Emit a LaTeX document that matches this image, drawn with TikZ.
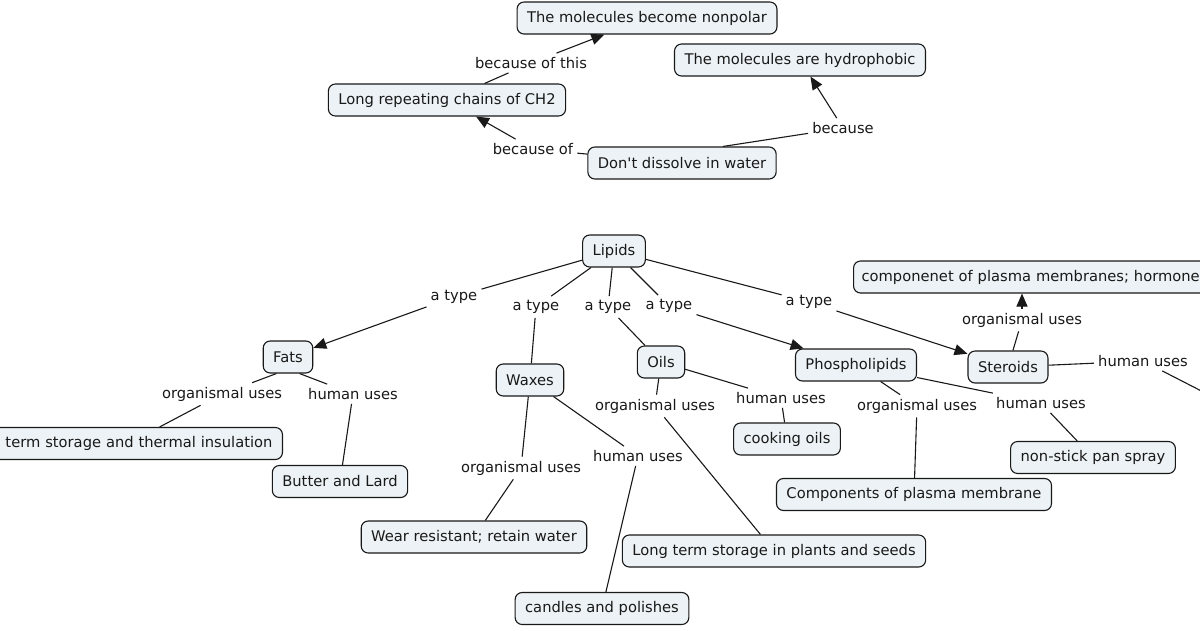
\documentclass[tikz,border=0pt]{standalone}
\usepackage{fontspec}
\setmainfont{DejaVu Sans}[Ligatures=TeXOff]
\usetikzlibrary{arrows.meta}
\definecolor{boxfill}{RGB}{236,242,245}
\definecolor{ink}{RGB}{25,25,25}
\begin{document}
\begin{tikzpicture}[x=1pt,y=-1pt,
  font=\fontsize{14.7}{17}\selectfont,
  concept/.style={draw=ink, line width=1.1pt, fill=boxfill, rounded corners=7pt,
    minimum height=32pt, inner xsep=10pt, text=ink},
  lab/.style={inner sep=4pt, text=ink},
  link/.style={draw=ink, line width=1.1pt},
  arr/.style={link, -{Triangle[length=13pt,width=11pt]}},
]
\useasboundingbox (0,0) rectangle (1200,630);
\clip (0,0) rectangle (1200,630);
\fill[white] (0,0) rectangle (1200,630);

% top cluster
\node[concept] (A) at (647,18) {The molecules become nonpolar};
\node[concept] (B) at (800,60) {The molecules are hydrophobic};
\node[concept] (C) at (447,100) {Long repeating chains of CH2};
\node[concept] (D) at (682,163) {Don't dissolve in water};
\node[lab] (lCA) at (531,63) {because of this};
\node[lab] (lDB) at (843,128) {because};
\node[lab] (lDC) at (533,149) {because of};
\draw[link] (C) -- (lCA);
\draw[arr] (lCA) -- (A);
\draw[link] (D.22) -- (lDB);
\draw[arr] (lDB) -- (B);
\draw[link] (D) -- (lDC);
\draw[arr] (lDC) -- (C);

% lipids
\node[concept] (Lip) at (614,251) {Lipids};
\node[concept] (Fats) at (288,357) {Fats};
\node[concept] (Wax) at (530,380) {Waxes};
\node[concept] (Oils) at (661,362) {Oils};
\node[concept] (Phos) at (856,365) {Phospholipids};
\node[concept] (Ster) at (1008,367) {Steroids};
\node[concept, anchor=west, inner xsep=8pt, text width=345pt, align=left] (Comp) at (853,277) {componenet of plasma membranes; hormone};
\node[concept, anchor=east, text width=300pt, align=right] (LTS) at (283,443.5) {term storage and thermal insulation};
\node[concept] (Butter) at (340,481.5) {Butter and Lard};
\node[concept] (Wear) at (474,537) {Wear resistant; retain water};
\node[concept] (Cand) at (602,608.5) {candles and polishes};
\node[concept] (LTP) at (774,551) {Long term storage in plants and seeds};
\node[concept] (Cook) at (787,439) {cooking oils};
\node[concept] (Memb) at (914,494.5) {Components of plasma membrane};
\node[concept] (Spray) at (1093,457.5) {non-stick pan spray};

\node[lab] (lLF) at (454,297) {a type};
\node[lab] (lLW) at (536,307) {a type};
\node[lab] (lLO) at (608,307) {a type};
\node[lab] (lLP) at (669,306) {a type};
\node[lab] (lLS) at (809,302) {a type};
\node[lab] (lFo) at (222,394) {organismal uses};
\node[lab] (lFh) at (353,394) {human uses};
\node[lab] (lWo) at (521,468) {organismal uses};
\node[lab] (lWh) at (638,456) {human uses};
\node[lab] (lOo) at (655,406) {organismal uses};
\node[lab] (lOh) at (781,398) {human uses};
\node[lab] (lPo) at (917,406) {organismal uses};
\node[lab] (lPh) at (1041,403) {human uses};
\node[lab] (lSo) at (1022,320) {organismal uses};
\node[lab] (lSh) at (1143,361) {human uses};
\coordinate (offR) at (1215,398);

\draw[link] (Lip) -- (lLF);
\draw[arr] (lLF) -- (Fats);
\draw[link] (Lip) -- (lLW);
\draw[link] (lLW) -- (Wax);
\draw[link] (Lip) -- (lLO);
\draw[link] (lLO) -- (Oils);
\draw[link] (Lip) -- (lLP);
\draw[arr] (lLP) -- (Phos);
\draw[link] (Lip) -- (lLS);
\draw[arr] (lLS) -- (Ster);

\draw[link] (Ster) -- (lSo);
\draw[arr] (lSo) -- (lSo |- Comp.south);
\draw[link] (Ster) -- (lSh);
\draw[link] (lSh) -- (offR);

\draw[link] (Fats.235) -- (lFo);
\draw[link] (lFo) -- (LTS.24);
\draw[link] (Fats.305) -- (lFh);
\draw[link] (lFh) -- (Butter);

\draw[link] (Wax) -- (lWo);
\draw[link] (lWo) -- (Wear);
\draw[link] (Wax) -- (lWh);
\draw[link] (lWh) -- (Cand);

\draw[link] (Oils) -- (lOo);
\draw[link] (lOo) -- (LTP);
\draw[link] (Oils) -- (lOh);
\draw[link] (lOh) -- (Cook);

\draw[link] (Phos) -- (lPo);
\draw[link] (lPo) -- (Memb);
\draw[link] (Phos) -- (lPh);
\draw[link] (lPh) -- (Spray);
\end{tikzpicture}
\end{document}
